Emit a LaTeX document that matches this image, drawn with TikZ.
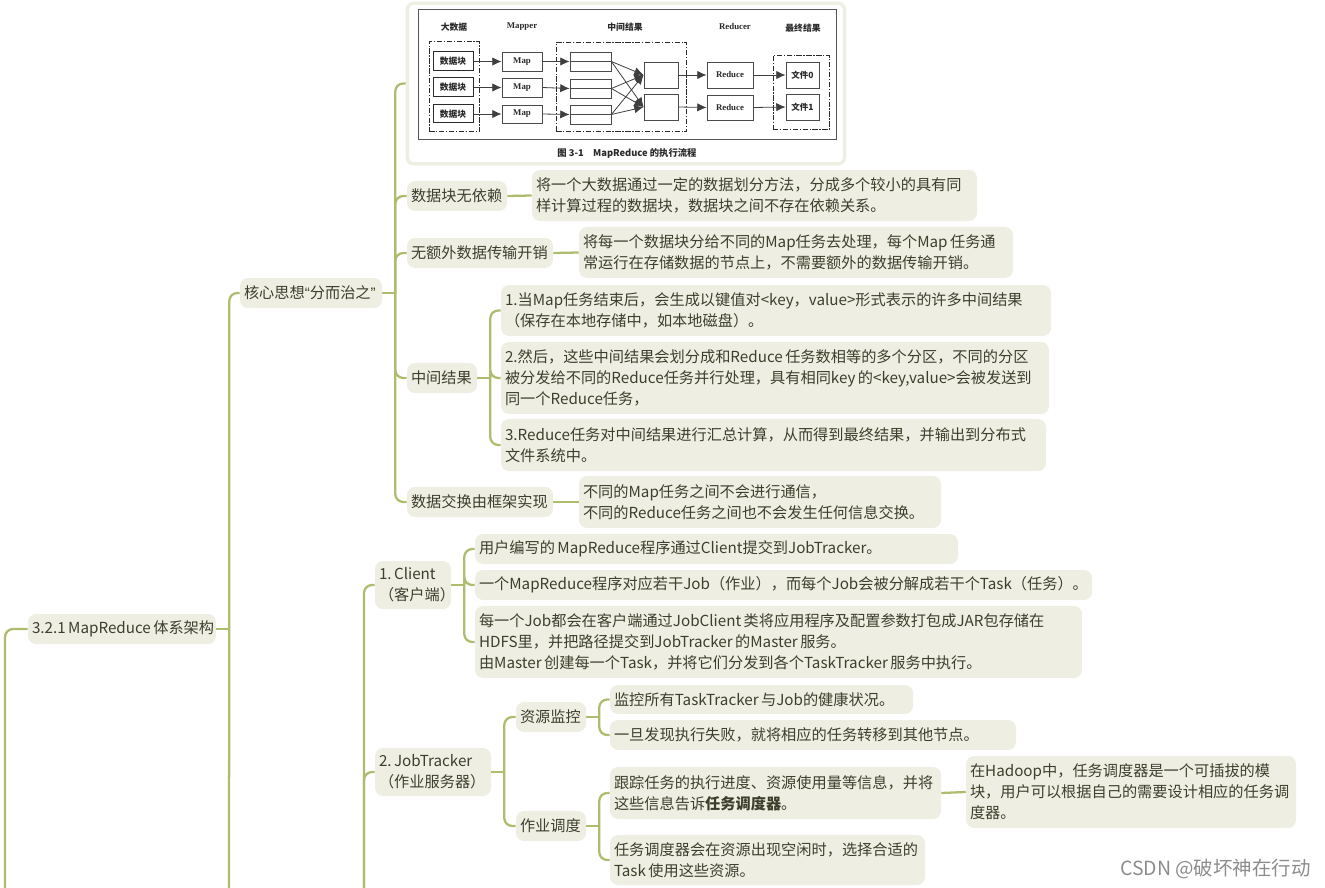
\documentclass[tikz,border=0pt]{standalone}
\usepackage{fontspec}
\setmainfont{Noto Sans CJK SC}
\newfontfamily\serifl{Liberation Serif}
\newfontfamily\quotefont{Liberation Sans}
\usetikzlibrary{calc,arrows.meta}
\definecolor{boxfill}{HTML}{EEEFE2}
\definecolor{linecol}{HTML}{AEBC6E}
\definecolor{txt}{HTML}{3E3E2C}
\definecolor{figk}{HTML}{2A2A2A}
\newcommand{\tightsp}{\frenchspacing\spaceskip=.16em\relax}
\tikzset{
  mbox/.style={rectangle,rounded corners=6pt,fill=boxfill,text=txt,inner sep=3pt,align=left,
    font=\fontsize{11.4}{15.8}\selectfont},
  conn/.style={draw=linecol,line width=1.7pt},
  curve/.style={conn,rounded corners=6pt},
  picframe/.style={rectangle,rounded corners=5pt,draw=boxfill,line width=2.6pt,fill=white},
  figframe/.style={rectangle,draw=figk!80,line width=.8pt},
  figdash/.style={rectangle,draw=figk,line width=.7pt,dash pattern=on 4pt off 1.2pt on 1pt off 1.2pt},
  figbold/.style={rectangle,draw=figk,line width=.75pt,fill=white,font=\fontsize{6.6}{7}\selectfont\bfseries,text=figk,inner sep=0pt},
  figthin/.style={rectangle,draw=figk!85,line width=.6pt,fill=white,font=\fontsize{6.6}{7}\selectfont\serifl\bfseries,text=figk,inner sep=0pt},
  fighead/.style={text=figk,inner sep=0pt,font=\fontsize{6.6}{7}\selectfont\bfseries},
  figarrow/.style={draw=figk!90,line width=.6pt,-{Latex[length=7pt,width=6.2pt]}},
  figline/.style={draw=figk!85,line width=.6pt},
  wmark/.style={text=black!45,inner sep=0pt,font=\fontsize{14.6}{16}\selectfont}
}
\newcommand{\bx}[6]{%
  \pgfmathsetmacro\bw{(#4-#2)*0.75}\pgfmathsetmacro\bh{(#5-#3)*0.75}\pgfmathsetmacro\tw{\bw-6}%
  \node[mbox,minimum width=\bw pt,minimum height=\bh pt,text width=\tw pt] (#1) at ({(#2+#4)/2},{(#3+#5)/2}) {\tightsp #6};}
\newcommand{\fb}[6][figthin]{%
  \pgfmathsetmacro\bw{(#4-#2)*0.75}\pgfmathsetmacro\bh{(#5-#3)*0.75}%
  \node[#1,minimum width=\bw pt,minimum height=\bh pt] (#2a#3) at ({(#2+#4)/2},{(#3+#5)/2}) {#6};}
% parent, children list: stub to a bus, then a rounded branch to each child
\newcommand{\tree}[2]{%
  \coordinate (bus) at ($(#1.east)+(13,0)$);
  \draw[conn] (#1.east) -- (bus);
  \foreach \ch in {#2} {\draw[curve] (bus) |- (\ch.west);}}
\begin{document}
\begin{tikzpicture}[x=0.75pt,y=-0.75pt]
\useasboundingbox (0,0) rectangle (1325,888);
% --- main boxes
\bx{root}{28}{614}{216}{644}{\mbox{3.2.1 MapReduce 体系架构}}
\bx{core}{240}{278}{382}{308}{核心思想{\quotefont“}分而治之{\quotefont”}}
\node[picframe,minimum width=328pt,minimum height=120.5pt] (img) at (626,83.5) {};
\bx{d1}{407}{181}{507}{211}{数据块无依赖}
\bx{d1t}{532}{170}{977}{221}{将一个大数据通过一定的数据划分方法，分成多个较小的具有同\\样计算过程的数据块，数据块之间不存在依赖关系。}
\bx{d2}{407}{238}{553}{268}{无额外数据传输开销}
\bx{d2t}{579}{227}{1013}{278}{将每一个数据块分给不同的Map任务去处理，每个Map 任务通\\常运行在存储数据的节点上，不需要额外的数据传输开销。}
\bx{d3}{407}{363}{477}{393}{中间结果}
\bx{d3a}{501}{285}{1051}{336}{1.当Map任务结束后，会生成以键值对<key，value>形式表示的许多中间结果\\（保存在本地存储中，如本地磁盘）。}
\bx{d3b}{501}{342}{1049}{414}{2.然后，这些中间结果会划分成和Reduce 任务数相等的多个分区，不同的分区\\被分发给不同的Reduce任务并行处理，具有相同key 的<key,value>会被发送到\\同一个Reduce任务，}
\bx{d3c}{501}{419}{1046}{471}{3.Reduce任务对中间结果进行汇总计算，从而得到最终结果，并输出到分布式\\文件系统中。}
\bx{d4}{407}{487}{553}{517}{数据交换由框架实现}
\bx{d4t}{579}{476}{941}{528}{不同的Map任务之间不会进行通信，\\不同的Reduce任务之间也不会发生任何信息交换。}
\bx{client}{375}{561}{451}{609}{1. Client\\（客户端）}
\bx{c1}{475}{534}{958}{564}{用户编写的 MapReduce程序通过Client提交到JobTracker。}
\bx{c2}{475}{570}{1092}{600}{一个MapReduce程序对应若干Job（作业），而每个Job会被分解成若干个Task（任务）。}
\bx{c3}{475}{606}{1082}{678}{每一个Job都会在客户端通过JobClient 类将应用程序及配置参数打包成JAR包存储在\\HDFS里，并把路径提交到JobTracker 的Master 服务。\\由Master 创建每一个Task，并将它们分发到各个TaskTracker 服务中执行。}
\bx{jt}{375}{748}{491}{796}{2. JobTracker\\（作业服务器）}
\bx{res}{516}{702}{586}{732}{资源监控}
\bx{res1}{610}{685}{913}{714}{监控所有TaskTracker 与Job的健康状况。}
\bx{res2}{610}{720}{1016}{750}{一旦发现执行失败，就将相应的任务转移到其他节点。}
\bx{job}{516}{811}{586}{841}{作业调度}
\bx{job1}{610}{767}{941}{819}{跟踪任务的执行进度、资源使用量等信息，并将\\这些信息告诉\textbf{任务调度器}。}
\bx{job2}{610}{835}{925}{885}{任务调度器会在资源出现空闲时，选择合适的\\Task 使用这些资源。}
\bx{hadoop}{966}{756}{1296}{828}{在Hadoop中，任务调度器是一个可插拔的模\\块，用户可以根据自己的需要设计相应的任务调\\度器。}
% --- connectors
\coordinate (rootoff) at (5,888);
\coordinate (coreoff) at (229,888);
\coordinate (archoff) at (364,888);
\draw[curve] (rootoff) |- (root.west);
\tree{root}{core}
\draw[conn] (bus) -- (coreoff);
\tree{core}{img,d1,d2,d3,d4}
\draw[conn] (d1.east) -- (d1t.west);
\draw[conn] (d2.east) -- (d2t.west);
\draw[conn] (d4.east) -- (d4t.west);
\tree{d3}{d3a,d3b,d3c}
\draw[curve] (archoff) |- (client.west);
\draw[curve] (archoff) |- (jt.west);
\tree{client}{c1,c2,c3}
\tree{jt}{res,job}
\tree{res}{res1,res2}
\tree{job}{job1,job2}
\draw[conn] (job1.east) -- (hadoop.west);
% --- the figure inside the picture node
\node[figframe,minimum width=314pt,minimum height=98pt] (frame) at (627.5,74.5) {};
\node[fighead] (h1) at (454,27) {大数据};
\node[fighead,font=\fontsize{6.6}{7}\selectfont\serifl\bfseries] (h2) at (522,27) {Mapper};
\node[fighead] (h3) at (625,27) {中间结果};
\node[fighead,font=\fontsize{6.6}{7}\selectfont\serifl\bfseries] (h4) at (735,27) {Reducer};
\node[fighead] (h5) at (803,28) {最终结果};
\node[fighead,font=\fontsize{7}{7}\selectfont\bfseries] (cap) at (627,153) {图 3-1\quad MapReduce 的执行流程};
\node[figdash,minimum width=38pt,minimum height=67pt] (g1) at (454.5,86.5) {};
\node[figdash,minimum width=98pt,minimum height=67pt] (g2) at (621.5,87) {};
\node[figdash,minimum width=42pt,minimum height=56pt] (g3) at (801,92.5) {};
\fb[figbold]{433}{52}{473}{71}{数据块}
\fb[figbold]{433}{78}{473}{97}{数据块}
\fb[figbold]{433}{105}{473}{123}{数据块}
\fb{502}{52}{542}{71}{Map}
\fb{502}{78}{542}{97}{Map}
\fb{502}{105}{542}{123}{Map}
\fb{570}{52}{611}{71}{}
\fb{570}{79}{611}{98}{}
\fb{570}{105}{611}{124}{}
\fb{644}{62}{678}{88}{}
\fb{644}{94}{678}{120}{}
\fb{707}{62}{753}{88}{Reduce}
\fb{707}{95}{753}{120}{Reduce}
\fb[figthin,font=\fontsize{6.4}{7}\selectfont\bfseries]{786}{62}{819}{88}{文件0}
\fb[figthin,font=\fontsize{6.4}{7}\selectfont\bfseries]{786}{94}{819}{120}{文件1}
\draw[figarrow] (433a52.east) -- (502a52.west);
\draw[figarrow] (433a78.east) -- (502a78.west);
\draw[figarrow] (433a105.east) -- (502a105.west);
\draw[figarrow] (502a52.east) -- (570a52.west);
\draw[figarrow] (502a78.east) -- (570a79.west);
\draw[figarrow] (502a105.east) -- (570a105.west);
\draw[figline] (570a52.west) -- (570a52.east);
\draw[figline] (570a79.west) -- (570a79.east);
\draw[figline] (570a105.west) -- (570a105.east);
\foreach \src in {570a52,570a79,570a105}{
  \draw[figarrow] (\src.east) -- (644a62.west);
  \draw[figarrow] (\src.east) -- (644a94.west);}
\draw[figarrow] (644a62.east) -- (707a62.west);
\draw[figarrow] (644a94.east) -- (707a95.west);
\draw[figarrow] (707a62.east) -- (786a62.west);
\draw[figarrow] (707a95.east) -- (786a94.west);
% --- watermark
\node[wmark,anchor=east] (wm) at (1311,869) {CSDN @破坏神在行动};
\end{tikzpicture}
\end{document}
